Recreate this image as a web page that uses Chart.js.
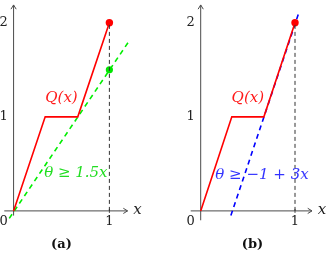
<!DOCTYPE html>
<html><head><meta charset="utf-8">
<script src="https://cdn.jsdelivr.net/npm/chart.js@4/dist/chart.umd.min.js"></script>
<style>
html,body{margin:0;padding:0;background:#fff;}
#wrap{position:relative;width:332px;height:255px;overflow:hidden;background:#fff;}
canvas{position:absolute;top:0;}
</style></head><body>
<div id="wrap">
<canvas id="ca" width="166" height="255" style="left:0"></canvas>
<canvas id="cb" width="166" height="255" style="left:166px"></canvas>
</div>
<script>
// ---- data ----
const qX = [0, 0.33, 0.67, 1];
const qY = [0, 1, 1, 2];
const greenX = [-0.045, 1.195];
const greenY = [-0.08, 1.79];
const blueX = [0.32, 1.045];
const blueY = [-0.05, 2.12];
const vDashX = [1, 1];
const vDashY = [0, 2];
const redDot = [1, 2];
const greenDot = [1, 1.5];
const xTicks = [1];
const xTickLabels = ['1'];
const yTicks = [1, 2];
const yTickLabels = ['1', '2'];
const originLabel = '0';
const panelLabels = ['(a)', '(b)'];
const greenLabel = 'θ ≥ 1.5x';
const blueLabel = 'θ ≥ −1 + 3x';

const pts = (xs, ys) => xs.map((x, i) => ({x: x, y: ys[i]}));

const AX = '#4a4a4a';
const SERIF = '"DejaVu Serif", "Liberation Serif", serif';
function arrow(ctx, x, y, dx, dy) {
  const L = 5, a = 0.55;
  const ang = Math.atan2(dy, dx);
  ctx.beginPath();
  ctx.moveTo(x - L * Math.cos(ang - a), y - L * Math.sin(ang - a));
  ctx.lineTo(x, y);
  ctx.lineTo(x - L * Math.cos(ang + a), y - L * Math.sin(ang + a));
  ctx.stroke();
}

function makePlugin(p) {
  return {
    id: 'decor',
    beforeDatasetsDraw(chart) {
      const ctx = chart.ctx, xs = chart.scales.x, ys = chart.scales.y;
      const X = v => xs.getPixelForValue(v), Y = v => ys.getPixelForValue(v);
      ctx.save();
      ctx.strokeStyle = AX; ctx.lineWidth = 1;
      ctx.beginPath();
      ctx.moveTo(X(p.axX[0]), Y(0)); ctx.lineTo(X(p.axX[1]), Y(0));
      ctx.moveTo(X(0), Y(p.axY[0])); ctx.lineTo(X(0), Y(p.axY[1]));
      ctx.stroke();
      arrow(ctx, X(p.axX[1]), Y(0), 1, 0);
      arrow(ctx, X(0), Y(p.axY[1]), 0, -1);
      ctx.beginPath();
      xTicks.forEach(t => { ctx.moveTo(X(t), Y(0) - 2); ctx.lineTo(X(t), Y(0) + 2); });
      ctx.stroke();
      ctx.restore();
    },
    afterDatasetsDraw(chart) {
      const ctx = chart.ctx, xs = chart.scales.x, ys = chart.scales.y;
      const X = v => xs.getPixelForValue(v), Y = v => ys.getPixelForValue(v);
      ctx.save();
      ctx.textAlign = 'center'; ctx.textBaseline = 'middle';
      ctx.fillStyle = '#222';
      ctx.font = '13px ' + SERIF;
      xTicks.forEach((t, i) => ctx.fillText(xTickLabels[i], X(t), Y(0) + 11));
      yTicks.forEach((t, i) => ctx.fillText(yTickLabels[i], X(0) - 10, Y(t)));
      ctx.fillText(originLabel, X(0) - 10, Y(0) + 11);
      ctx.font = 'italic 15px ' + SERIF;
      ctx.fillText('x', X(p.axX[1]) + 10, Y(0) - 1);
      ctx.fillStyle = '#ff1a1a';
      ctx.fillText('Q(x)', X(p.qPos[0]), Y(p.qPos[1]));
      ctx.fillStyle = p.lblColor;
      ctx.fillText(p.lbl, X(p.lblPos[0]), Y(p.lblPos[1]));
      ctx.fillStyle = '#111';
      ctx.font = 'bold 13px ' + SERIF;
      ctx.fillText(p.panel, X(p.panelPos[0]), Y(p.panelPos[1]));
      ctx.restore();
    }
  };
}

function makeChart(id, p) {
  const datasets = [
    {data: pts(vDashX, vDashY), borderColor: '#333', borderWidth: 1, borderDash: [4, 3], pointRadius: 0},
    {data: pts(qX, qY), borderColor: '#ff0000', borderWidth: 1.6, pointRadius: 0},
    {data: [{x: redDot[0], y: redDot[1]}], pointRadius: 3.7, backgroundColor: '#ff0000', borderWidth: 0, showLine: false},
  ];
  if (p.greenDot) datasets.push({data: [{x: greenDot[0], y: greenDot[1]}], pointRadius: 3.6, backgroundColor: '#00e600', borderWidth: 0, showLine: false});
  datasets.push({data: pts(p.lx, p.ly), borderColor: p.lineColor, borderWidth: 1.6, borderDash: [5, 4], pointRadius: 0});
  datasets.forEach(d => { d.showLine = d.showLine !== false; d.clip = false; d.fill = false; d.tension = 0; });
  return new Chart(document.getElementById(id), {
    type: 'scatter',
    data: {datasets},
    options: {
      responsive: false, animation: false, devicePixelRatio: 1,
      layout: {padding: p.pad},
      plugins: {legend: {display: false}, tooltip: {enabled: false}},
      scales: {
        x: {type: 'linear', display: false, min: p.xr[0], max: p.xr[1]},
        y: {type: 'linear', display: false, min: -0.2, max: 2.2}
      }
    },
    plugins: [makePlugin(p)]
  });
}

makeChart('ca', {
  pad: {left: 3.7, right: 18.3, top: 1.7, bottom: 25.3},
  xr: [-0.1, 1.4],
  axX: [-0.097, 1.19], axY: [-0.05, 2.19],
  lx: greenX, ly: greenY, lineColor: '#00ee00', greenDot: true,
  lbl: greenLabel, lblColor: '#22dd22', lblPos: [0.65, 0.40],
  qPos: [0.5, 1.2], panel: panelLabels[0], panelPos: [0.5, -0.36]
});
makeChart('cb', {
  pad: {left: 15.84, right: 8.7, top: 1.7, bottom: 25.3},
  xr: [-0.2, 1.3],
  axX: [-0.106, 1.18], axY: [-0.1, 2.19],
  lx: blueX, ly: blueY, lineColor: '#0000ff', greenDot: false,
  lbl: blueLabel, lblColor: '#3333ff', lblPos: [0.65, 0.38],
  qPos: [0.5, 1.2], panel: panelLabels[1], panelPos: [0.55, -0.36]
});
</script>
</body></html>
